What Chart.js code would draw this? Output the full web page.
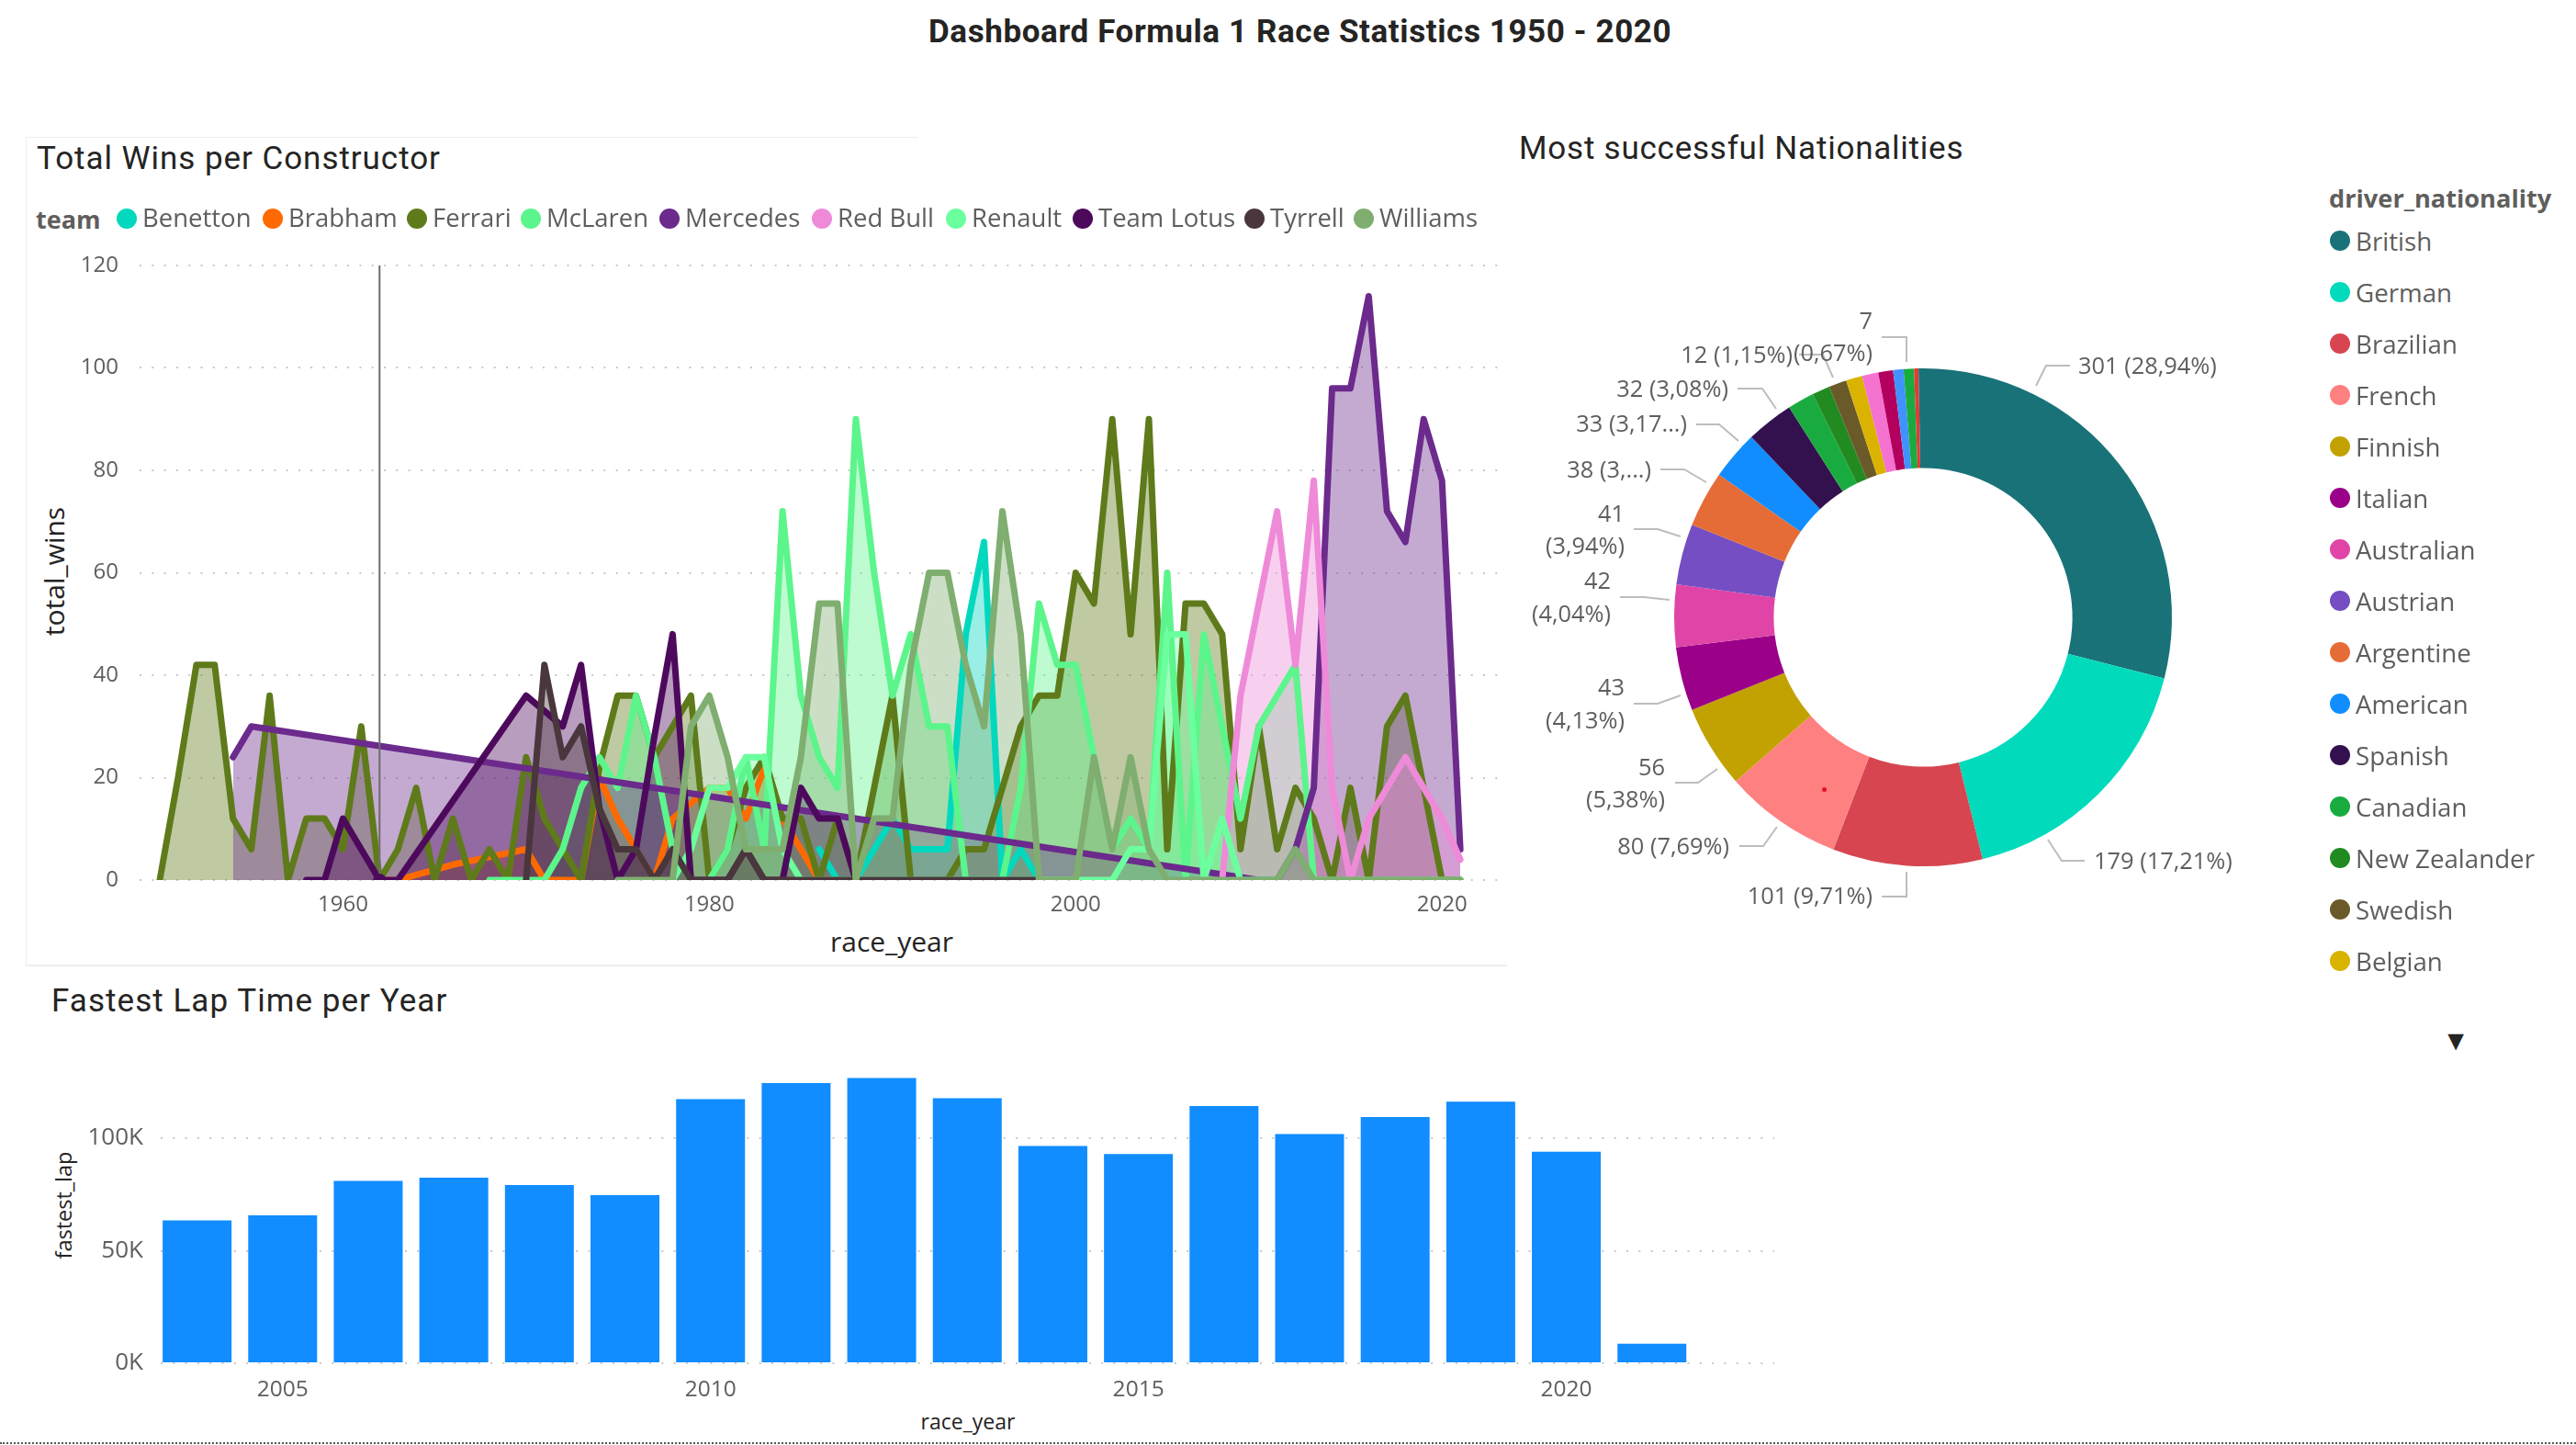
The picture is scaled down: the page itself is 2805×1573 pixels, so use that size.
<!DOCTYPE html>
<html>
<head>
<meta charset="utf-8">
<title>Dashboard Formula 1 Race Statistics 1950 - 2020</title>
<script src="https://cdn.jsdelivr.net/npm/chart.js@4"></script>
<style>
html, body { margin: 0; background: #fff; }
#page { position: relative; width: 2805px; height: 1573px; overflow: hidden; font-family: "Open Sans", sans-serif; color: #605e5c; }
#page canvas { position: absolute; }
.txt { position: absolute; white-space: nowrap; line-height: 1; transform: translateY(-50%); }
.head { font-family: Roboto, sans-serif; color: #252423; font-size: 35px; letter-spacing: .95px; }
.axis { color: #252423; }
.dot { position: absolute; width: 22px; height: 22px; border-radius: 50%; transform: translate(-50%, -50%); }
.rule { position: absolute; background: #eeeeee; }
</style>
</head>
<body>
<div id="page">
  <div class="txt" style="left:1011px;top:34px;font:700 35px Roboto,sans-serif;color:#252423;letter-spacing:.6px">Dashboard Formula 1 Race Statistics 1950 - 2020</div>
  <div class="rule" style="left:28px;top:149px;width:971px;height:1px"></div>
  <div class="rule" style="left:28px;top:149px;width:1px;height:902px"></div>
  <div class="rule" style="left:28px;top:1050px;width:1613px;height:2px"></div>
  <div class="txt head" style="left:40px;top:172px">Total Wins per Constructor</div>
  <div class="txt head" style="left:1654px;top:161px;letter-spacing:.77px">Most successful Nationalities</div>
  <div class="txt head" style="left:56px;top:1089px;letter-spacing:1.05px">Fastest Lap Time per Year</div>
  <div class="txt" style="left:39px;top:238px;font-size:27px;font-weight:700">team</div>
  <div class="txt" style="left:2536px;top:216px;font-size:27.2px;font-weight:700">driver_nationality</div>
  <div class="txt axis" style="left:971px;top:1025px;font-size:30px;transform:translate(-50%,-50%)">race_year</div>
  <div class="txt axis" style="left:59px;top:622px;font-size:30px;transform:translate(-50%,-50%) rotate(-90deg)">total_wins</div>
  <div class="txt axis" style="left:1054px;top:1547px;font-size:23px;transform:translate(-50%,-50%)">race_year</div>
  <div class="txt axis" style="left:70px;top:1312px;font-size:23.5px;transform:translate(-50%,-50%) rotate(-90deg)">fastest_lap</div>
  <div class="txt" style="left:2674px;top:1132px;font-size:30px;color:#252423;transform:translate(-50%,-50%)">&#9660;</div>
  <div style="position:absolute;left:1984px;top:857px;width:5px;height:5px;border-radius:50%;background:#e81123;z-index:2"></div>
  <div style="position:absolute;left:0;top:1570px;width:2805px;border-top:2px dotted #555"></div>
  <canvas id="winsChart" style="left:0;top:250px"></canvas>
  <canvas id="nationChart" style="left:1650px;top:330px"></canvas>
  <canvas id="lapChart" style="left:0;top:1150px"></canvas>
</div>
<script>
// ---- wins per constructor per year (null = no point)
const years = [
    1950,1951,1952,1953,1954,1955,1956,1957,1958,1959,
    1960,1961,1962,1963,1964,1965,1966,1967,1968,1969,
    1970,1971,1972,1973,1974,1975,1976,1977,1978,1979,
    1980,1981,1982,1983,1984,1985,1986,1987,1988,1989,
    1990,1991,1992,1993,1994,1995,1996,1997,1998,1999,
    2000,2001,2002,2003,2004,2005,2006,2007,2008,2009,
    2010,2011,2012,2013,2014,2015,2016,2017,2018,2019,
    2020,2021];
const n = null;
const benetton = [
    n,n,n,n,n,n,n,n,n,n, n,n,n,n,n,n,n,n,n,n, n,n,n,n,n,n,n,n,n,n,
    n,n,n,n,n,n,6,0,0,6, 12,6,6,6,48,66,0,6,0,n,
    n,n,n,n,n,n,n,n,n,n, n,n,n,n,n,n,n,n,n,n, n,n];
const brabham = [
    n,n,n,n,n,n,n,n,n,n, n,n,0,0,1,n,3,n,4.5,n, 6,0,0,0,20,12,6,0,12,15,
    18,18,12,22,12,6,0,0,n,n, n,n,n,n,n,n,n,n,n,n,
    n,n,n,n,n,n,n,n,n,n, n,n,n,n,n,n,n,n,n,n, n,n];
const ferrari = [
    0,20,42,42,12,6,36,0,12,12, 6,30,0,6,18,0,12,0,6,0, 24,12,6,0,22,36,36,24,30,36,
    0,6,18,24,12,12,0,12,0,18, 36,0,0,0,6,6,18,30,36,36,
    60,54,90,48,90,6,54,54,48,6, 30,6,18,12,0,18,0,30,36,18, 0,0];
const mclaren = [
    n,n,n,n,n,n,n,n,n,n, n,n,n,n,n,n,n,n,0,0, 0,0,6,18,24,18,36,24,6,0,
    0,6,24,6,72,36,24,18,90,60, 36,48,30,30,0,0,0,18,54,42,
    42,24,6,12,6,60,0,48,30,12, 30,36,42,0,0,0,0,0,0,0, 0,0];
const mercedes = [
    n,n,n,n,24,30,n,n,n,n, n,n,n,n,n,n,n,n,n,n, n,n,n,n,n,n,n,n,n,n,
    n,n,n,n,n,n,n,n,n,n, n,n,n,n,n,n,n,n,n,n,
    n,n,n,n,n,n,n,n,n,n, 0,0,6,18,96,96,114,72,66,90, 78,6];
const redBull = [
    n,n,n,n,n,n,n,n,n,n, n,n,n,n,n,n,n,n,n,n, n,n,n,n,n,n,n,n,n,n,
    n,n,n,n,n,n,n,n,n,n, n,n,n,n,n,n,n,n,n,n,
    n,n,n,n,n,n,n,n,0,36, 54,72,42,78,18,0,12,18,24,18, 12,4];
const renault = [
    n,n,n,n,n,n,n,n,n,n, n,n,n,n,n,n,n,n,n,n, n,n,n,n,n,n,n,n,0,6,
    18,18,24,24,6,0,n,n,n,n, n,n,n,n,n,n,n,n,n,n,
    0,0,0,6,6,48,48,0,12,0, 0,0,n,n,n,n,n,n,n,n, n,n];
const teamLotus = [
    n,n,n,n,n,n,n,n,0,0, 12,6,0,0,n,n,n,n,n,n, 36,33,30,42,14,0,6,28,48,0,
    0,0,6,0,0,18,12,12,0,n, n,n,n,n,n,n,n,n,n,n,
    n,n,n,n,n,n,n,n,n,n, n,n,n,n,n,n,n,n,n,n, n,n];
const tyrrell = [
    n,n,n,n,n,n,n,n,n,n, n,n,n,n,n,n,n,n,n,n, 0,42,24,30,14,6,6,0,6,0,
    0,0,6,0,0,0,0,0,0,0, 0,0,0,0,0,0,0,0,0,n,
    n,n,n,n,n,n,n,n,n,n, n,n,n,n,n,n,n,n,n,n, n,n];
const williams = [
    n,n,n,n,n,n,n,n,n,n, n,n,n,n,n,n,n,n,n,n, n,n,n,n,n,0,0,0,0,30,
    36,24,6,6,6,24,54,54,0,12, 12,42,60,60,42,30,72,48,0,0,
    0,24,6,24,6,0,0,0,0,0, 0,0,6,0,0,0,0,0,0,0, 0,0];

const teams = ['Benetton','Brabham','Ferrari','McLaren','Mercedes','Red Bull','Renault','Team Lotus','Tyrrell','Williams'];
const teamValues = [benetton,brabham,ferrari,mclaren,mercedes,redBull,renault,teamLotus,tyrrell,williams];
const teamRgb = ['1,216,190','255,106,0','95,122,26','92,245,140','107,42,140','238,138,216','107,255,158','77,10,92','74,54,61','127,174,112'];
const teamLegendX = [155,314,471,595,746,912,1058,1196,1383,1502];
const markerYear = 1962;

// ---- nationalities
const nations = ['British','German','Brazilian','French','Finnish','Italian','Australian','Austrian','Argentine','American','Spanish','Canadian','New Zealander','Swedish','Belgian','Dutch','Mexican','Colombian','Polish','Japanese','Other'];
const nationValues = [301,179,101,80,56,43,42,41,38,33,32,18,12,12,11,11,10,7,7,3,3];
const nationColors = ['#197278','#01dbbc','#d64550','#ff8080','#c2a200','#9b0088','#e044a7','#744ec2','#e66c37','#118dff','#33114f','#1aab40','#218b21','#6b5a29','#d9b300','#f472d0','#b3005e','#4092ff','#1aab40','#e53935','#197278'];
const nationsInLegend = 15;

// leader lines of the donut labels, offsets from the donut centre
const donutLabels = [
    { pts: [[123,-252],[134,-274],[160,-274]], align: 'left',  x: 169, lines: [['301 (28,94%)',-272]] },
    { pts: [[136,242],[151,265],[176,265]],    align: 'left',  x: 186, lines: [['179 (17,21%)',267]] },
    { pts: [[-18,277],[-18,304],[-45,304]],    align: 'right', x: -55, lines: [['101 (9,71%)',305]] },
    { pts: [[-159,228],[-174,249],[-200,249]], align: 'right', x: -211, lines: [['80 (7,69%)',251]] },
    { pts: [[-224,165],[-245,180],[-270,180]], align: 'right', x: -281, lines: [['56',165],['(5,38%)',200]] },
    { pts: [[-264,85],[-289,94],[-315,94]],    align: 'right', x: -325, lines: [['43',78],['(4,13%)',114]] },
    { pts: [[-276,-19],[-304,-22],[-330,-22]], align: 'right', x: -340, lines: [['42',-38],['(4,04%)',-2]] },
    { pts: [[-264,-88],[-289,-96],[-315,-96]], align: 'right', x: -325, lines: [['41',-111],['(3,94%)',-76]] },
    { pts: [[-236,-147],[-260,-161],[-286,-161]], align: 'right', x: -296, lines: [['38 (3,...)',-159]] },
    { pts: [[-201,-192],[-222,-210],[-247,-210]], align: 'right', x: -257, lines: [['33 (3,17...)',-209]] },
    { pts: [[-160,-227],[-175,-249],[-202,-249]], align: 'right', x: -212, lines: [['32 (3,08%)',-247]] },
    { pts: [[-98,-261],[-109,-286],[-135,-286]], align: 'right', x: -142, lines: [['12 (1,15%)',-284]] },
    { pts: [[-18,-278],[-18,-305],[-45,-305]], align: 'right', x: -55, lines: [['7',-321],['(0,67%)',-286]] }
];

// ---- fastest lap
const lapYears = [2004,2005,2006,2007,2008,2009,2010,2011,2012,2013,2014,2015,2016,2017,2018,2019,2020,2021];
const lapValues = [63500,65700,81000,82500,79200,74700,117300,124500,126700,117800,96500,93000,114300,101800,109400,116200,94000,8700];
const lapTicks = [0,50000,100000];

Chart.defaults.font.family = '"Open Sans", sans-serif';
Chart.defaults.font.size = 24;
Chart.defaults.color = '#605e5c';
Chart.defaults.animation = false;
Chart.defaults.responsive = false;
Chart.defaults.devicePixelRatio = 1;
Chart.defaults.plugins.legend.display = false;
Chart.defaults.plugins.tooltip.enabled = false;

const page = document.getElementById('page');
function addText(x, y, text, size) {
    const el = document.createElement('div');
    el.className = 'txt';
    el.style.left = x + 'px';
    el.style.top = y + 'px';
    el.style.fontSize = size + 'px';
    el.textContent = text;
    page.appendChild(el);
}
function addDot(x, y, color) {
    const el = document.createElement('div');
    el.className = 'dot';
    el.style.left = x + 'px';
    el.style.top = y + 'px';
    el.style.background = color;
    page.appendChild(el);
}
teams.forEach((t, i) => {
    addDot(teamLegendX[i] - 17, 238, 'rgb(' + teamRgb[i] + ')');
    addText(teamLegendX[i], 237, t, 27.5);
});
for (let i = 0; i < nationsInLegend; i++) {
    addDot(2548, 262 + i * 56, nationColors[i]);
    addText(2565, 263 + i * 56, nations[i], 27.7);
}

const dottedGrid = { color: '#c8c8c8', lineWidth: 2, drawTicks: false };
const dottedBorder = { display: false, dash: [2, 11.3] };

// ---- line chart: all the areas go under all the lines
const winsCanvas = document.getElementById('winsChart');
winsCanvas.width = 1660;
winsCanvas.height = 790;
const teamPoints = i => years.map((y, k) => ({ x: y, y: teamValues[i][k] }));
const areaSets = teams.map((t, i) => ({
    label: t + ' area',
    data: teamPoints(i),
    borderWidth: 0,
    borderColor: 'transparent',
    backgroundColor: 'rgba(' + teamRgb[i] + ',0.4)',
    fill: 'origin',
    tension: 0,
    spanGaps: true,
    pointRadius: 0,
    order: 100 - i
}));
const lineSets = teams.map((t, i) => ({
    label: t,
    data: teamPoints(i),
    borderColor: 'rgb(' + teamRgb[i] + ')',
    borderWidth: 7,
    borderJoinStyle: 'round',
    borderCapStyle: 'round',
    fill: false,
    tension: 0,
    spanGaps: true,
    pointRadius: 0,
    clip: { left: 10, right: 10, top: 10, bottom: 0 },
    order: teams.length - i
}));
const markerSet = {
    label: 'marker',
    data: [{ x: markerYear, y: 0 }, { x: markerYear, y: 120 }],
    borderColor: '#6b6b6b',
    borderWidth: 2,
    fill: false,
    pointRadius: [7, 0],
    pointBackgroundColor: 'rgb(77,10,92)',
    pointBorderWidth: 0,
    order: -1
};
new Chart(winsCanvas, {
    type: 'line',
    data: { datasets: areaSets.concat(lineSets, [markerSet]) },
    options: {
        layout: { padding: { top: 39, right: 20 } },
        scales: {
            x: {
                type: 'linear',
                min: 1948.9,
                max: 2023.5,
                afterFit: s => { s.height = 790 - 708; },
                grid: { display: false },
                border: { display: false },
                ticks: {
                    stepSize: 20,
                    includeBounds: false,
                    maxRotation: 0,
                    padding: 5,
                    callback: v => String(v)
                }
            },
            y: {
                min: 0,
                max: 120,
                afterFit: s => { s.width = 152; },
                grid: Object.assign({}, dottedGrid),
                border: dottedBorder,
                ticks: { stepSize: 20, padding: 23 }
            }
        }
    }
});

// ---- donut
const donutLabelPlugin = {
    id: 'donutLabels',
    afterDraw(chart) {
        const c = chart.ctx;
        const cx = (chart.chartArea.left + chart.chartArea.right) / 2;
        const cy = (chart.chartArea.top + chart.chartArea.bottom) / 2;
        c.save();
        c.strokeStyle = '#bdbdbd';
        c.lineWidth = 2;
        c.fillStyle = '#605e5c';
        c.font = '25.4px "Open Sans", sans-serif';
        c.textBaseline = 'middle';
        donutLabels.forEach(l => {
            c.beginPath();
            l.pts.forEach((p, i) => i ? c.lineTo(cx + p[0], cy + p[1]) : c.moveTo(cx + p[0], cy + p[1]));
            c.stroke();
            c.textAlign = l.align;
            l.lines.forEach(t => c.fillText(t[0], cx + l.x, cy + t[1]));
        });
        c.restore();
    }
};
const nationCanvas = document.getElementById('nationChart');
nationCanvas.width = 888;
nationCanvas.height = 684;
new Chart(nationCanvas, {
    type: 'doughnut',
    data: {
        labels: nations,
        datasets: [{ data: nationValues, backgroundColor: nationColors, borderWidth: 0, radius: 271, cutout: '60%' }]
    },
    options: {},
    plugins: [donutLabelPlugin]
});

// ---- bars
const lapCanvas = document.getElementById('lapChart');
lapCanvas.width = 1960;
lapCanvas.height = 420;
new Chart(lapCanvas, {
    type: 'bar',
    data: {
        datasets: [{
            label: 'fastest_lap',
            data: lapYears.map((y, i) => ({ x: y, y: lapValues[i] })),
            backgroundColor: '#118dff',
            categoryPercentage: 1,
            barPercentage: 0.805
        }]
    },
    options: {
        layout: { padding: { top: 15.5, right: 28 } },
        scales: {
            x: {
                type: 'linear',
                offset: false,
                min: 2003.575,
                max: 2022.43,
                afterFit: s => { s.height = 420 - 334; },
                grid: { display: false },
                border: { display: false },
                ticks: {
                    stepSize: 5,
                    includeBounds: false,
                    maxRotation: 0,
                    padding: 6,
                    font: { size: 24.5 },
                    callback: v => String(v)
                }
            },
            y: {
                min: 0,
                max: 130000,
                afterFit: s => { s.width = 175; s.paddingTop = 0; },
                afterBuildTicks: s => { s.ticks = lapTicks.map(v => ({ value: v })); },
                grid: Object.assign({}, dottedGrid),
                border: dottedBorder,
                ticks: {
                    padding: 19,
                    font: { size: 26 },
                    callback: v => (v / 1000) + 'K'
                }
            }
        }
    }
});
</script>
</body>
</html>
